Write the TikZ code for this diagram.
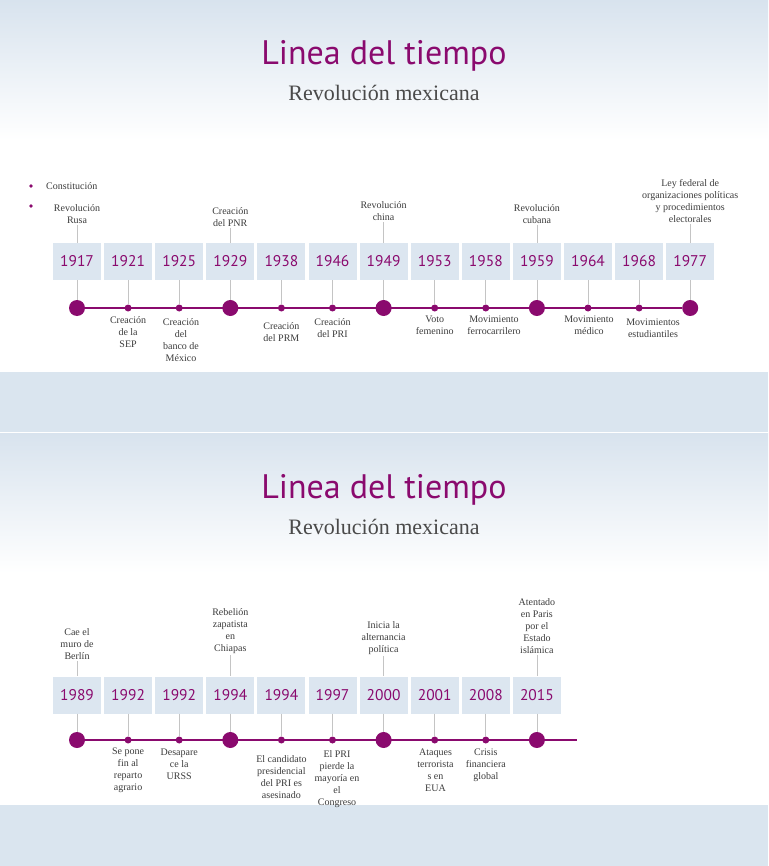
\documentclass[tikz,border=0pt]{standalone}
\usepackage{fontspec}
\setmainfont{Liberation Serif}
\newfontfamily\ptsans{PT Sans}
\definecolor{tlpurple}{HTML}{8A0A6E}
\definecolor{boxblue}{HTML}{DCE6F0}
\definecolor{bandblue}{HTML}{DAE5EF}
\definecolor{bgtop}{HTML}{D8E3EE}
\definecolor{lblgray}{HTML}{3C3C3C}
\definecolor{tickgray}{HTML}{C4C4C4}
\definecolor{subgray}{HTML}{4A4A4A}
\tikzset{
  yearbox/.style={fill=boxblue, minimum width=48, minimum height=37, inner sep=0pt,
    text=tlpurple, font=\ptsans\fontsize{15.5}{16}\selectfont},
  bigdot/.style={circle, fill=tlpurple, minimum size=16, inner sep=0pt},
  smalldot/.style={circle, fill=tlpurple, minimum size=7, inner sep=0pt},
  lbl/.style={font=\fontsize{10}{12}\selectfont, text=lblgray, align=center, inner sep=1pt},
  tick/.style={draw=tickgray, line width=0.8pt},
  tline/.style={draw=tlpurple, line width=2.8pt},
  titlefont/.style={font=\ptsans\fontsize{34}{40}\selectfont, text=tlpurple, inner sep=0pt},
  subfont/.style={font=\fontsize{22}{26}\selectfont, text=subgray, inner sep=0pt},
  bulletmark/.style={circle, fill=tlpurple, minimum size=3.6, inner sep=0pt}
}
\begin{document}
\begin{tikzpicture}[x=1pt,y=-1pt]
\useasboundingbox (0,0) rectangle (768,866);
% backgrounds
\fill[white] (0,0) rectangle (768,866);
\shade[top color=bgtop, bottom color=white] (0,0) rectangle (768,140);
\fill[bandblue] (0,372) rectangle (768,432);
\shade[top color=bgtop, bottom color=white] (0,433) rectangle (768,573);
\fill[bandblue] (0,805) rectangle (768,866);

% ===== Slide 1 =====
\node[titlefont, anchor=base] (t1) at (384,65) {Linea del tiempo};
\node[subfont, anchor=base] (s1) at (384,101) {Revolución mexicana};

\foreach \n/\x/\yr/\sty in {
  1917/77/1917/bigdot, 1921/128.1/1921/smalldot, 1925/179.2/1925/smalldot,
  1929/230.3/1929/bigdot, 1938/281.4/1938/smalldot, 1946/332.5/1946/smalldot,
  1949/383.6/1949/bigdot, 1953/434.7/1953/smalldot, 1958/485.8/1958/smalldot,
  1959/536.9/1959/bigdot, 1964/588/1964/smalldot, 1968/639.1/1968/smalldot,
  1977/690.2/1977/bigdot}{
  \node[yearbox] (y\n) at (\x,261.5) {\yr};
  \node[\sty] (d\n) at (\x,308) {};
  \draw[tick] (y\n) -- (d\n);
}
\draw[tline] (d1917) -- (d1977);

% bullets
\node[bulletmark] (b1) at (31,186) {};
\node[bulletmark] (b2) at (31,206) {};
\node[lbl, anchor=west] (lcons) at (45,186) {Constitución};

% top labels
\node[lbl, anchor=south] (l1917) at (77,225) {Revolución\\Rusa};
\node[lbl, anchor=south] (l1929) at (230.3,228) {Creación\\del PNR};
\node[lbl, anchor=south] (l1949) at (383.6,222) {Revolución\\china};
\node[lbl, anchor=south] (l1959) at (536.9,225) {Revolución\\cubana};
\node[lbl, anchor=south] (l1977) at (690.2,224) {Ley federal de\\organizaciones políticas\\y procedimientos\\electorales};
\foreach \n in {1917,1929,1949,1959,1977}{
  \draw[tick] (l\n.south) -- (y\n.north);
}

% bottom labels
\node[lbl, anchor=north] (l1921) at (128.1,315) {Creación\\de la\\SEP};
\node[lbl, anchor=north] (l1925) at (181,317) {Creación\\del\\banco de\\México};
\node[lbl, anchor=north] (l1938) at (281.4,321) {Creación\\del PRM};
\node[lbl, anchor=north] (l1946) at (332.5,317) {Creación\\del PRI};
\node[lbl, anchor=north] (l1953) at (434.7,315) {Voto\\femenino};
\node[lbl, anchor=north] (l1958) at (494,315) {Movimiento\\ferrocarrilero};
\node[lbl, anchor=north] (l1964) at (589,315) {Movimiento\\médico};
\node[lbl, anchor=north] (l1968) at (653,318) {Movimientos\\estudiantiles};

% ===== Slide 2 =====
\node[titlefont, anchor=base] (t2) at (384,498) {Linea del tiempo};
\node[subfont, anchor=base] (s2) at (384,534) {Revolución mexicana};

\foreach \n/\x/\yr/\sty in {
  1989/77/1989/bigdot, 1992a/128.1/1992/smalldot, 1992b/179.2/1992/smalldot,
  1994a/230.3/1994/bigdot, 1994b/281.4/1994/smalldot, 1997/332.5/1997/smalldot,
  2000/383.6/2000/bigdot, 2001/434.7/2001/smalldot, 2008/485.8/2008/smalldot,
  2015/536.9/2015/bigdot}{
  \node[yearbox] (z\n) at (\x,695) {\yr};
  \node[\sty] (e\n) at (\x,740) {};
  \draw[tick] (z\n) -- (e\n);
}
\coordinate (lineend2) at (577,740);
\draw[tline] (e1989) -- (lineend2);

% top labels
\node[lbl, anchor=south] (m1989) at (77,661) {Cae el\\muro de\\Berlín};
\node[lbl, anchor=south] (m1994a) at (230.3,655) {Rebelión\\zapatista\\en\\Chiapas};
\node[lbl, anchor=south] (m2000) at (383.6,656) {Inicia la\\alternancia\\política};
\node[lbl, anchor=south] (m2015) at (536.9,655) {Atentado\\en Paris\\por el\\Estado\\islámica};
\foreach \n in {1989,1994a,2000,2015}{
  \draw[tick] (m\n.south) -- (z\n.north);
}

% bottom labels
\node[lbl, anchor=north] (m1992a) at (128.1,747) {Se pone\\fin al\\reparto\\agrario};
\node[lbl, anchor=north] (m1992b) at (179.2,748) {Desapare\\ce la\\URSS};
\node[lbl, anchor=north] (m1994b) at (281.4,754) {El candidato\\presidencial\\del PRI es\\asesinado};
\node[lbl, anchor=north] (m1997) at (337,749) {El PRI\\pierde la\\mayoría en\\el\\Congreso};
\node[lbl, anchor=north] (m2001) at (435.5,748) {Ataques\\terrorista\\s en\\EUA};
\node[lbl, anchor=north] (m2008) at (485.8,748) {Crisis\\financiera\\global};
\end{tikzpicture}
\end{document}
